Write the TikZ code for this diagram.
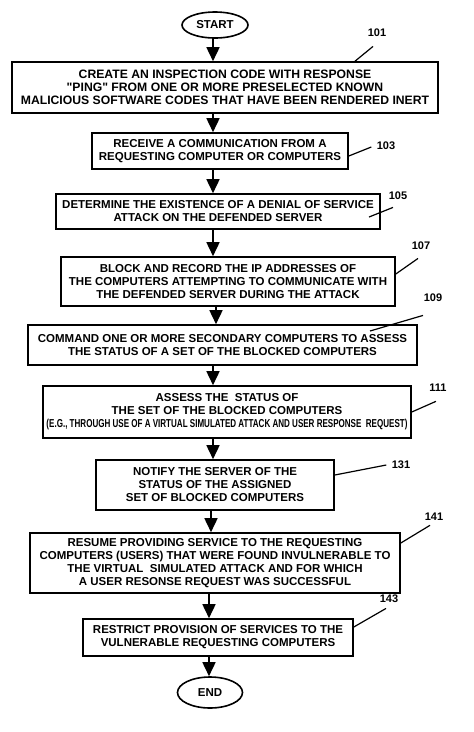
\documentclass[tikz,border=0pt]{standalone}
\usepackage{fontspec}
\setmainfont{Liberation Sans}[Ligatures=TeXOff]
\usepackage{graphicx}
\usetikzlibrary{arrows.meta,shapes.geometric}

\tikzset{
  block/.style={draw, line width=1.6pt, align=center, inner sep=0pt,
    font=\bfseries\fontsize{11.5}{13}\selectfont},
  term/.style={draw, ellipse, line width=1.6pt, inner sep=0pt,
    font=\bfseries\fontsize{11.5}{13}\selectfont},
  arr/.style={line width=1.6pt, -{Triangle[length=14pt,width=13pt]}},
  leader/.style={line width=1.2pt},
  num/.style={font=\bfseries\fontsize{11}{12}\selectfont}
}

\begin{document}
\begin{tikzpicture}[x=1pt,y=-1pt]
	\useasboundingbox (0,0) rectangle (474,732);
	% Начало и конец
	\node[term, minimum width=66pt, minimum height=26pt] (start) at (215,25) {START};
	\node[term, minimum width=65pt, minimum height=31pt] (end) at (210,692.5) {END};
	% Блоки
	\node[block, minimum width=426pt, minimum height=51pt,
		font=\bfseries\fontsize{12.2}{13.2}\selectfont] (b101) at (225,87.5)
		{CREATE AN INSPECTION CODE WITH RESPONSE\\
		"PING" FROM ONE OR MORE PRESELECTED KNOWN\\
		MALICIOUS SOFTWARE CODES THAT HAVE BEEN RENDERED INERT};
	\node[block, minimum width=256pt, minimum height=36pt] (b103) at (220,151)
		{RECEIVE A COMMUNICATION FROM A\\REQUESTING COMPUTER OR COMPUTERS};
	\node[block, minimum width=324pt, minimum height=35pt] (b105) at (218,211.5)
		{DETERMINE THE EXISTENCE OF A DENIAL OF SERVICE\\ATTACK ON THE DEFENDED SERVER};
	\node[block, minimum width=334pt, minimum height=49pt] (b107) at (228,281.5)
		{BLOCK AND RECORD THE IP ADDRESSES OF\\
		THE COMPUTERS ATTEMPTING TO COMMUNICATE WITH\\
		THE DEFENDED SERVER DURING THE ATTACK};
	\node[block, minimum width=389pt, minimum height=40pt] (b109) at (222.5,345)
		{COMMAND ONE OR MORE SECONDARY COMPUTERS TO ASSESS\\
		THE STATUS OF A SET OF THE BLOCKED COMPUTERS};
	\node[block, minimum width=368pt, minimum height=52pt] (b111) at (227,412)
		{ASSESS THE\ \ STATUS OF\\
		THE SET OF THE BLOCKED COMPUTERS\\
		\resizebox{361pt}{\height}{(E.G., THROUGH USE OF A VIRTUAL SIMULATED ATTACK AND USER RESPONSE\ \ REQUEST)}};
	\node[block, minimum width=238pt, minimum height=50pt] (b131) at (215,485)
		{NOTIFY THE SERVER OF THE\\STATUS OF THE ASSIGNED\\SET OF BLOCKED COMPUTERS};
	\node[block, minimum width=370pt, minimum height=60pt] (b141) at (215,563)
		{RESUME PROVIDING SERVICE TO THE REQUESTING\\
		COMPUTERS (USERS) THAT WERE FOUND INVULNERABLE TO\\
		THE VIRTUAL\ \ SIMULATED ATTACK AND FOR WHICH\\
		A USER RESONSE REQUEST WAS SUCCESSFUL};
	\node[block, minimum width=270pt, minimum height=37pt] (b143) at (218,637.5)
		{RESTRICT PROVISION OF SERVICES TO THE\\VULNERABLE REQUESTING COMPUTERS};
	% Номера позиций
	\node[num] (n101) at (377,33) {101};
	\node[num] (n103) at (386,146) {103};
	\node[num] (n105) at (398,196) {105};
	\node[num] (n107) at (421,246) {107};
	\node[num] (n109) at (433,298) {109};
	\node[num] (n111) at (438,388) {111};
	\node[num] (n131) at (401,465) {131};
	\node[num] (n141) at (434,517) {141};
	\node[num] (n143) at (389,599) {143};
	% Выноски
	\draw[leader] (b101.north -| 355,0) -- ([xshift=-4pt,yshift=-6pt]n101.south);
	\draw[leader] (b103.east |- 0,156) -- ([xshift=-2pt,yshift=-1pt]n103.west);
	\draw[leader] (369,217) -- ([xshift=-5pt,yshift=-4pt]n105.south);
	\draw[leader] (b107.east |- 0,274) -- ([xshift=-3pt,yshift=-5pt]n107.south);
	\draw[leader] (370,331) -- ([xshift=-10pt,yshift=-10pt]n109.south);
	\draw[leader] (b111.east |- 0,412) -- ([xshift=-2pt,yshift=-6pt]n111.south);
	\draw[leader] (b131.east |- 0,475) -- ([xshift=-2pt]n131.west);
	\draw[leader] (b141.east |- 0,543) -- ([xshift=-4pt,yshift=-1pt]n141.south);
	\draw[leader] (b143.east |- 0,627) -- ([xshift=-3pt,yshift=-2pt]n143.south);
	% Стрелки
	\coordinate (k1) at (213,0);
	\coordinate (k2) at (216,0);
	\coordinate (k3) at (211,0);
	\coordinate (k4) at (209,0);
	\draw[arr] (start.south -| k1) -- (b101.north -| k1);
	\draw[arr] (b101.south -| k1) -- (b103.north -| k1);
	\draw[arr] (b103.south -| k1) -- (b105.north -| k1);
	\draw[arr] (b105.south -| k1) -- (b107.north -| k1);
	\draw[arr] (b107.south -| k2) -- (b109.north -| k2);
	\draw[arr] (b109.south -| k1) -- (b111.north -| k1);
	\draw[arr] (b111.south -| k1) -- (b131.north -| k1);
	\draw[arr] (b131.south -| k3) -- (b141.north -| k3);
	\draw[arr] (b141.south -| k4) -- (b143.north -| k4);
	\draw[arr] (b143.south -| k4) -- (end.north -| k4);
\end{tikzpicture}
\end{document}
